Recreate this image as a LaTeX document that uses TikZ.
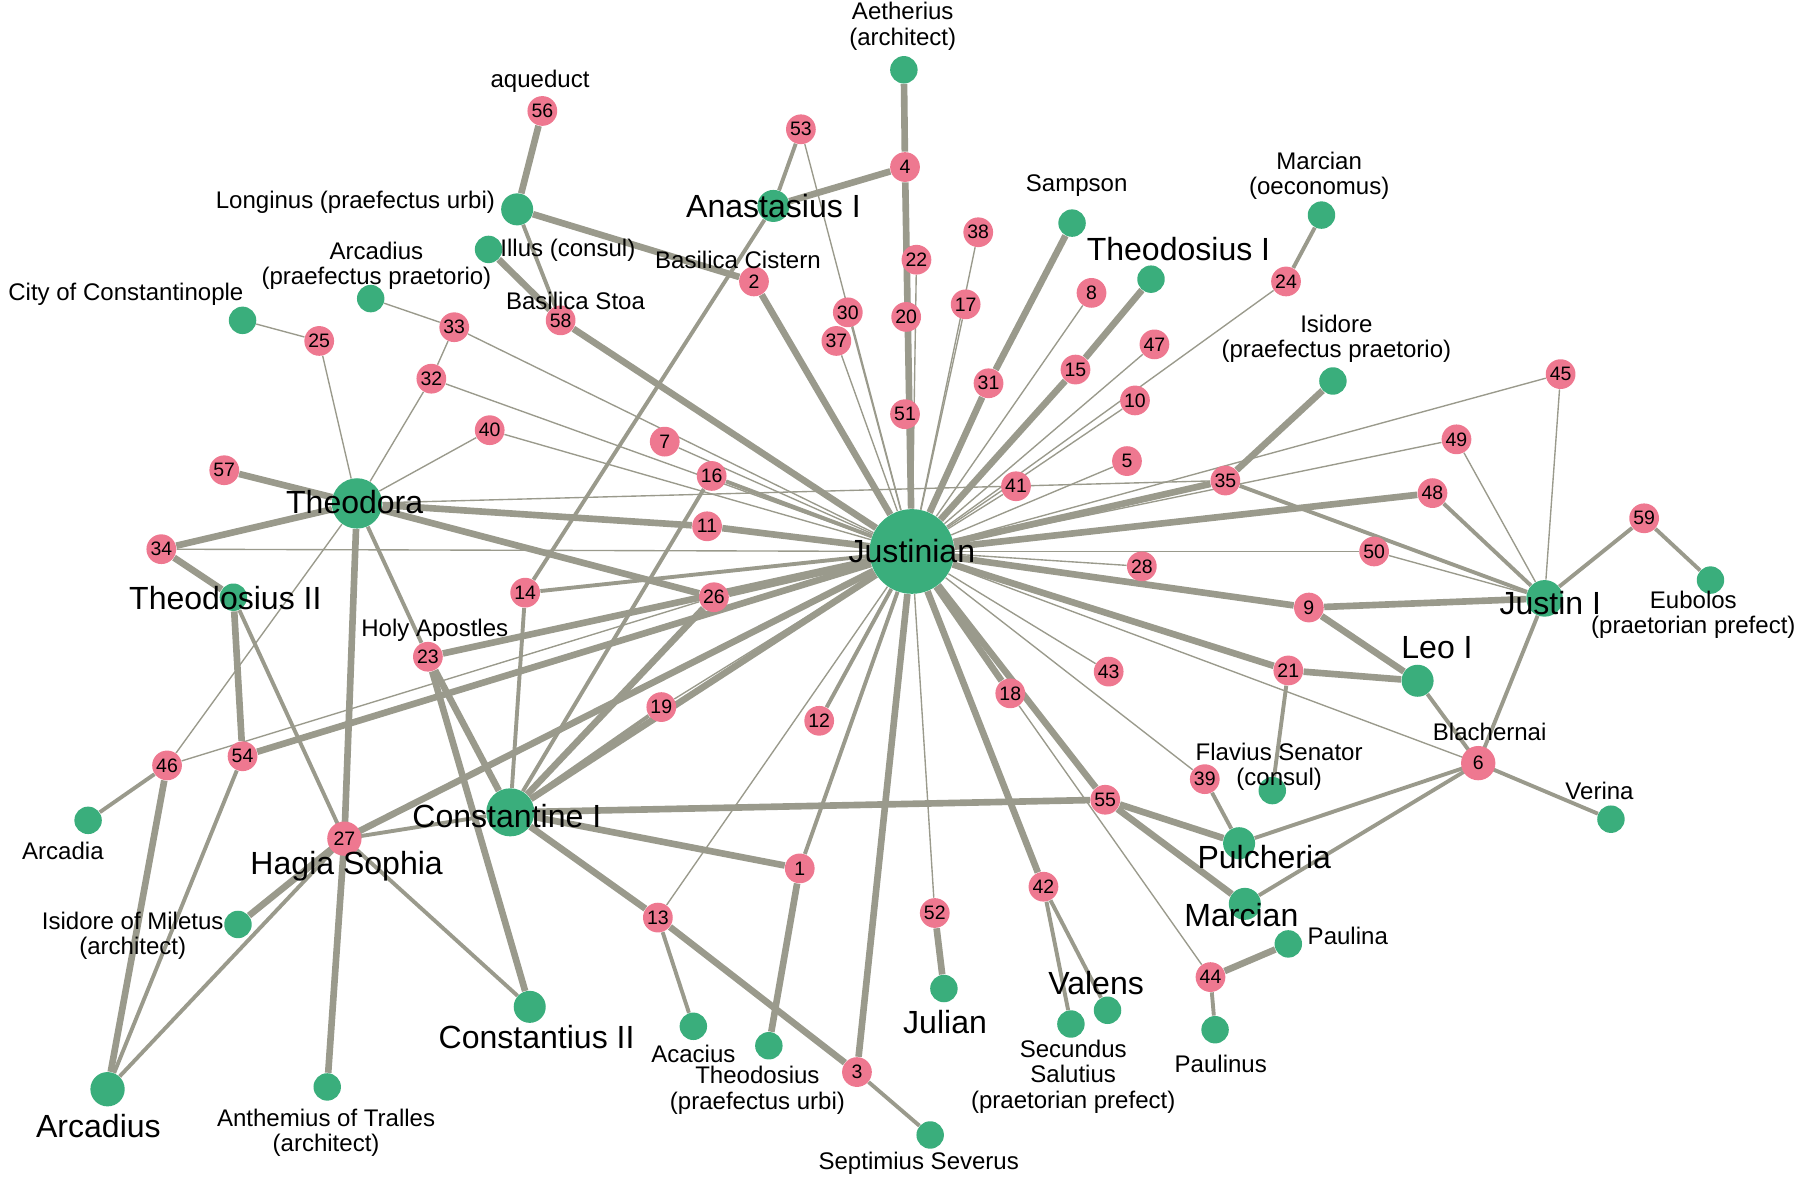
\documentclass[tikz,border=0pt]{standalone}
\usepackage{fontspec}
\setmainfont{Liberation Sans}
\usetikzlibrary{backgrounds}
\definecolor{pk}{HTML}{EE7890}
\definecolor{gr}{HTML}{3AAE7C}
\definecolor{eg}{HTML}{9A9A8C}
\begin{document}
\begin{tikzpicture}[x=0.5pt,y=-0.5pt,
  pn/.style={circle,fill=pk,inner sep=0pt,minimum size=13pt,font=\fontsize{8.5}{9}\selectfont},
  gn/.style={circle,fill=gr,inner sep=0pt,minimum size=12pt},
  lb/.style={font=\fontsize{10.5}{11}\selectfont,align=center,inner sep=0pt},
  bl/.style={font=\fontsize{14}{15}\selectfont,inner sep=0pt},
  ew/.style={draw=eg,line width=0.6pt},
  em/.style={draw=eg,line width=1.7pt},
  et/.style={draw=eg,line width=2.9pt}]
\useasboundingbox (0,0) rectangle (1568,1031);
% green nodes
\node[gn,minimum size=37pt] (Jus) at (797,482) {};
\node[gn,minimum size=22pt] (Thd) at (312,440) {};
\node[gn,minimum size=21pt] (Con) at (446,710) {};
\node[gn,minimum size=16pt] (JuI) at (1350,523) {};
\node[gn] (ThII) at (204,522) {};
\node[gn] (Aet) at (790,61) {};
\node[gn,minimum size=14pt] (Lon) at (452,183) {};
\node[gn] (Ill) at (427,218) {};
\node[gn] (Arp) at (324,261) {};
\node[gn] (Cit) at (212,280) {};
\node[gn,minimum size=14pt] (Ana) at (676,180) {};
\node[gn] (Sam) at (937,195) {};
\node[gn] (ThI) at (1006,244) {};
\node[gn] (Mao) at (1155,188) {};
\node[gn] (Isp) at (1165,333) {};
\node[gn] (Eub) at (1495,507) {};
\node[gn,minimum size=14pt] (Leo) at (1239,595) {};
\node[gn] (Ver) at (1408,716) {};
\node[gn] (Fla) at (1112,691) {};
\node[gn,minimum size=14pt] (Pul) at (1083,737) {};
\node[gn,minimum size=14pt] (Mar) at (1088,790) {};
\node[gn] (Pna) at (1126,825) {};
\node[gn] (Pus) at (1062,900) {};
\node[gn] (Val) at (968,883) {};
\node[gn] (Sec) at (936,895) {};
\node[gn] (Jul) at (825,864) {};
\node[gn] (Thp) at (672,914) {};
\node[gn] (Aca) at (606,897) {};
\node[gn] (Sep) at (813,992) {};
\node[gn,minimum size=14pt] (CoII) at (463,880) {};
\node[gn] (Ant) at (286,950) {};
\node[gn,minimum size=15pt] (Arc) at (94,952) {};
\node[gn] (Isi) at (208,808) {};
\node[gn] (Ara) at (77,717) {};
% pink nodes
\foreach \n/\x/\y in {56/474/97,53/700/113,4/791/146,22/801/227,38/855/203,2/659/246,30/741/273,37/731/298,20/792/277,17/844/266,58/490/280,33/397/286,25/279/298,32/377/331,8/954/256,24/1124/246,47/1009/301,15/940/323,31/864/335,10/992/350,45/1364/327,51/791/362,40/428/376,7/581/386,16/622/416,5/985/403,49/1273/384,35/1071/420,41/888/425,48/1252/431,57/196/411,11/618/460,34/141/480,59/1437/453,50/1201/482,28/998/495,14/459/518,26/624/522,9/1144/531,23/374/574,43/969/587,21/1126/586,18/883/606,19/578/618,12/716/630,46/146/669,54/212/661,6/1292/667,39/1053/681,55/966/699,27/301/733,1/699/759,42/912/775,13/575/802,52/817/798,44/1058/854,3/749/937}
  \node[pn] (n\n) at (\x,\y) {\n};
\node[pn,minimum size=15pt] at (n27) {27};
\node[pn,minimum size=15pt] at (n6) {6};
\begin{scope}[on background layer]
\foreach \a/\b in {n53/Jus,n30/Jus,n37/Jus,n38/Jus,n17/Jus,n22/Jus,n8/Jus,n47/Jus,n10/Jus,n24/Jus,n5/Jus,n41/Jus,n45/Jus,n49/Jus,n45/JuI,n49/JuI,n50/Jus,n50/JuI,n28/Jus,n43/Jus,n39/Jus,n52/Jus,n19/Jus,n13/Jus,n6/Jus,n18/n44,Arp/n33,n33/n32,n33/Jus,n32/Thd,n32/Jus,Cit/n25,n25/Thd,n40/Thd,n40/Jus,n7/Jus,Thd/n35,n34/Jus,Thd/n46,n46/n26}
  \path[ew] (\a) -- (\b);
\foreach \a/\b in {Lon/n58,n53/Ana,Ana/n14,n14/Con,n14/Jus,n16/Jus,n16/Con,Thd/n23,ThII/n27,n54/Arc,n46/Ara,n27/Con,n27/Arc,n27/CoII,Con/n19,n12/Jus,n13/Aca,n1/Jus,n3/Sep,n42/Val,n42/Sec,n39/Pul,n21/Fla,Leo/n6,n6/JuI,n6/Ver,n6/Pul,n6/Mar,n44/Pus,n24/Mao,n35/JuI,n48/JuI,n59/JuI,n59/Eub}
  \path[em] (\a) -- (\b);
\foreach \a/\b in {n56/Lon,Lon/n2,Ill/n58,n58/Jus,Ana/n4,Aet/n4,n4/Jus,n2/Jus,Thd/n11,n11/Jus,n57/Thd,n34/Thd,n34/ThII,Thd/n26,Thd/n27,ThII/n54,n54/Jus,n46/Arc,n23/Jus,n23/CoII,n23/Con,n26/Con,n26/Jus,n27/Jus,n27/Isi,n27/Ant,Con/Jus,Con/n55,Con/n1,Con/n13,n13/n3,n1/Thp,n3/Jus,n52/Jul,n42/Jus,n18/Jus,n55/Jus,n55/Pul,n55/Mar,n21/Jus,n21/Leo,n9/Jus,n9/JuI,n9/Leo,n44/Pna,Sam/n31,n31/Jus,ThI/n15,n15/Jus,Isp/n35,n35/Jus,n48/Jus}
  \path[et] (\a) -- (\b);
\end{scope}
% labels
\node[lb] (L1) at (789,23) {Aetherius\\(architect)};
\node[lb] (L2) at (472,71) {aqueduct};
\node[lb,anchor=east] (L3) at (433,177) {Longinus (praefectus urbi)};
\node[bl] (L4) at (676,180) {Anastasius I};
\node[lb,anchor=west] (L5) at (437,219) {Illus (consul)};
\node[lb] (L6) at (645,227) {Basilica Cistern};
\node[lb] (L7) at (329,232) {Arcadius\\(praefectus praetorio)};
\node[lb] (L8) at (503,263) {Basilica Stoa};
\node[lb] (L9) at (110,257) {City of Constantinople};
\node[lb] (L10) at (941,162) {Sampson};
\node[lb] (L11) at (1153,154) {Marcian\\(oeconomus)};
\node[bl] (L12) at (1030,218) {Theodosius I};
\node[lb] (L13) at (1168,296) {Isidore\\(praefectus praetorio)};
\node[bl] (L14) at (310,439) {Theodora};
\node[bl] (L15) at (797,482) {Justinian};
\node[lb] (L16) at (1480,537) {Eubolos\\(praetorian prefect)};
\node[bl] (L17) at (1355,527) {Justin I};
\node[bl] (L18) at (197,523) {Theodosius II};
\node[lb] (L19) at (380,551) {Holy Apostles};
\node[bl] (L20) at (1256,566) {Leo I};
\node[lb] (L21) at (1302,640) {Blachernai};
\node[lb] (L22) at (1118,670) {Flavius Senator\\(consul)};
\node[lb] (L23) at (1398,691) {Verina};
\node[bl] (L24) at (443,713) {Constantine I};
\node[bl] (L25) at (303,757) {Hagia Sophia};
\node[lb] (L26) at (55,744) {Arcadia};
\node[bl] (L27) at (1105,749) {Pulcheria};
\node[bl] (L28) at (1085,800) {Marcian};
\node[lb] (L29) at (1178,818) {Paulina};
\node[lb] (L30) at (116,818) {Isidore of Miletus\\(architect)};
\node[bl] (L31) at (958,859) {Valens};
\node[bl] (L32) at (826,893) {Julian};
\node[bl] (L33) at (469,906) {Constantius II};
\node[lb] (L34) at (1067,930) {Paulinus};
\node[lb] (L35) at (938,941) {Secundus\\Salutius\\(praetorian prefect)};
\node[lb] (L36) at (606,921) {Acacius};
\node[lb] (L37) at (662,953) {Theodosius\\(praefectus urbi)};
\node[bl] (L38) at (86,984) {Arcadius};
\node[lb] (L39) at (285,990) {Anthemius of Tralles\\(architect)};
\node[lb] (L40) at (803,1017) {Septimius Severus};
\end{tikzpicture}
\end{document}
